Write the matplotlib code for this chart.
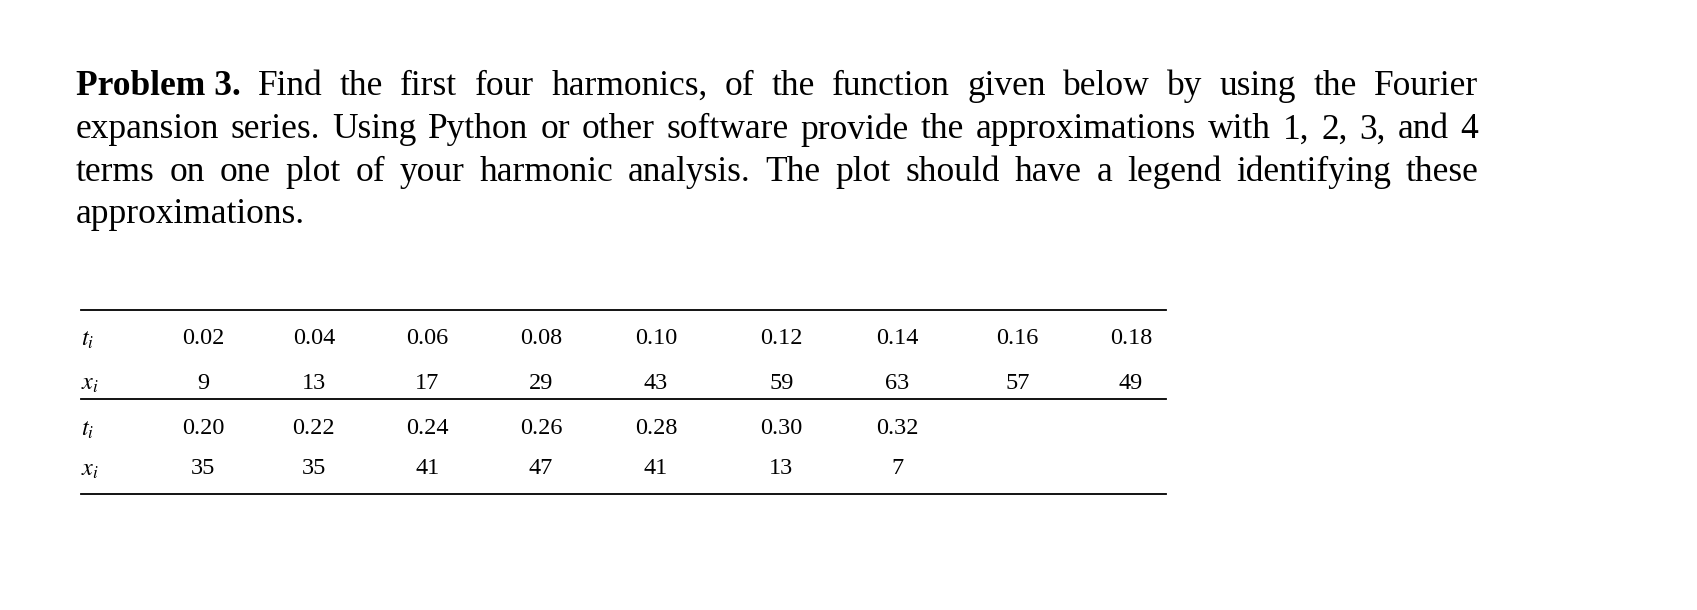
import matplotlib
matplotlib.use("Agg")
import matplotlib.pyplot as plt

plt.rcParams["mathtext.fontset"] = "stix"

t_vals = ["0.02", "0.04", "0.06", "0.08", "0.10", "0.12", "0.14", "0.16", "0.18",
          "0.20", "0.22", "0.24", "0.26", "0.28", "0.30", "0.32"]
x_vals = ["9", "13", "17", "29", "43", "59", "63", "57", "49",
          "35", "35", "41", "47", "41", "13", "7"]

lines = [
    "Find the first four harmonics, of the function given below by using the Fourier",
    "expansion series. Using Python or other software provide the approximations with 1, 2, 3, and 4",
    "terms on one plot of your harmonic analysis. The plot should have a legend identifying these",
    "approximations.",
]

W, H = 1697, 610
s = W / 1568
fig = plt.figure(figsize=(W / 100, H / 100), dpi=100)
ax = fig.add_axes([0, 0, 1, 1])
ax.set_xlim(0, W)
ax.set_ylim(H, 0)
ax.axis("off")
font = "Liberation Serif"
fs = 25.5

fig.canvas.draw()
r = fig.canvas.get_renderer()

def width(t):
    return t.get_window_extent(r).width

left, right = 70 * s, 1366 * s
line_y = [80 * s, 120 * s, 159 * s, 198 * s]
for i, ln in enumerate(lines):
    words = ln.split(" ")
    items = []
    if i == 0:
        items.append(ax.text(left, line_y[i], "Problem 3.", fontsize=fs, family=font,
                             fontweight="bold", va="center"))
    for w in words:
        items.append(ax.text(0, line_y[i], w, fontsize=fs, family=font, va="center"))
    ws = [width(t) for t in items]
    if i < 3:
        gap = (right - left - sum(ws)) / (len(items) - 1)
    else:
        gap = 7
    x = left
    for t, w in zip(items, ws):
        t.set_x(x)
        x += w + gap

# table
col_x = [188, 290, 395, 500, 606, 722, 829, 940, 1045]
row_y = [313, 354, 396, 433]
tfs = 17.5
for blk in range(2):
    ts = t_vals[blk * 9:(blk + 1) * 9]
    xs = x_vals[blk * 9:(blk + 1) * 9]
    yt, yx = row_y[2 * blk] * s, row_y[2 * blk + 1] * s
    ax.text(75 * s, yt, "$t_i$", fontsize=tfs, va="center", ha="left")
    ax.text(75 * s, yx, "$x_i$", fontsize=tfs, va="center", ha="left")
    for cx, tv, xv in zip(col_x, ts, xs):
        ax.text(cx * s, yt, tv, fontsize=tfs, family=font, ha="center", va="center")
        ax.text(cx * s, yx, xv, fontsize=tfs, family=font, ha="center", va="center")

for ly in [286, 369, 456]:
    ax.plot([75 * s, 1077 * s], [ly * s, ly * s], color="black", lw=1.3)

fig.savefig("out.png", dpi=100)
